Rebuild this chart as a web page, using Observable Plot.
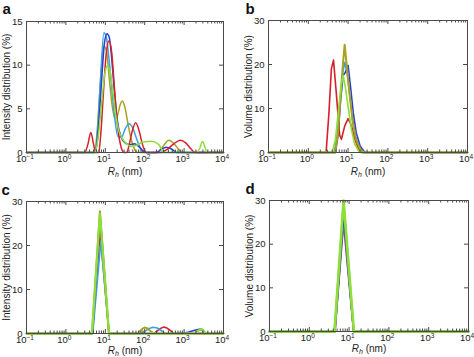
<!DOCTYPE html>
<html><head><meta charset="utf-8">
<script src="https://cdn.jsdelivr.net/npm/d3@7"></script>
<script src="https://cdn.jsdelivr.net/npm/@observablehq/plot@0.6"></script>
<style>
html,body{margin:0;padding:0;background:#fff;}
#wrap{position:relative;width:474px;height:357px;overflow:hidden;background:#fff;}
</style></head><body><div id="wrap"></div>
<script>
// ---------- data ----------
const seriesColors = {red:"#d7202a", blue:"#2c3fd0", sky:"#3c9fe2", olive:"#a9a21e", lime:"#8ddf3a"};
const xMajor = [0.1, 1, 10, 100, 1000, 10000];
const xTickLabels = ["10⁻¹","10⁰","10¹","10²","10³","10⁴"];
const minorFactors = [2,3,4,5,6,7,8,9];
const yTicksA = [0, 5, 10, 15];
const yTicksB = [0, 10, 20, 30];

// panel a: intensity distribution (%), [Rh nm, value]
const aRed = [[0.1,0],[3.0,0],[3.6,0.9],[4.3,2.3],[5.0,1.0],[5.7,0],[6.8,0],[7.8,2.5],[9,7],[10.5,11.2],[12.4,12.8],[14.5,11.5],[17,7.5],[20,3.5],[24,1.0],[30,0],[35,0],[40,0.8],[48,2.4],[59,3.4],[72,2.5],[88,0.9],[110,0],[260,0],[380,0.4],[550,1.0],[800,1.4],[1100,1.1],[1500,0.4],[1900,0],[10000,0]];
const aBlue = [[0.1,0],[5.6,0],[6.6,2.5],[8,8],[9.5,12.5],[11,13.6],[12.6,13.2],[14.5,10.8],[17,7],[20,3.8],[25,1.8],[32,1.1],[42,0.9],[55,1.0],[70,0.7],[90,0.2],[110,0],[200,0],[260,0.35],[350,0.6],[480,0.4],[650,0],[10000,0]];
const aSky = [[0.1,0],[5.4,0],[6.4,2.5],[7.6,8.5],[9.2,13.7],[10.5,13.3],[12.2,11],[14.5,7.5],[17.5,3.8],[21,1.8],[26,1.8],[32,2.7],[40,3.3],[50,2.8],[62,1.6],[78,0.5],[100,0],[10000,0]];
const aOlive = [[0.1,0],[5.3,0],[6.3,2.8],[7.6,8.5],[9.3,12.2],[10.8,11.5],[12.6,8.5],[14.8,5.5],[17.5,3.9],[20.5,4.3],[24,5.5],[27,5.9],[31,5.3],[38,3.2],[46,1.4],[55,0.4],[65,0],[210,0],[290,0.7],[410,1.4],[560,1.0],[750,0.3],[900,0],[10000,0]];
const aLime = [[0.1,0],[5.4,0],[6.5,1.5],[8,5.5],[9.7,9],[11.3,9.9],[13.2,9.3],[15.5,7],[18.5,4.2],[22,2.5],[27,1.6],[35,1.0],[45,0.7],[60,0.8],[90,1.2],[150,1.3],[230,0.9],[310,0],[2100,0],[2500,0.5],[2950,1.25],[3400,0.6],[3800,0],[10000,0]];

// panel b: volume distribution (%)
const bRed = [[0.1,0],[2.8,0],[3.3,9],[3.8,19],[4.3,21],[5.0,14],[6.1,4],[6.8,3],[8.2,6],[10,7.7],[12,6.2],[15,2.8],[18.5,0.8],[22,0],[10000,0]];
const bBlue = [[0.1,0],[4.8,0],[5.6,4],[6.5,12],[7.5,17.5],[8.5,18.2],[10,19.8],[11.5,15],[13.5,9],[16,4.5],[20,1.5],[25,0.3],[29,0],[10000,0]];
const bSky = [[0.1,0],[4.5,0],[5.3,4],[6.3,12],[7.3,18],[8.2,20.5],[9.5,18],[11,13],[13,7.5],[16,3],[20,0.8],[25,0],[10000,0]];
const bOlive = [[0.1,0],[4.7,0],[5.5,4],[6.5,13],[7.4,20],[8.2,24.5],[9.3,19.5],[11,13],[13,7],[16,2.8],[20,0.8],[24,0],[10000,0]];
const bLime = [[0.1,0],[4.0,0],[4.8,3],[5.8,10],[6.7,15.5],[7.5,17.5],[8.5,15],[10,10.5],[12,5.5],[14.5,2],[18,0.4],[21,0],[10000,0]];

// panel c: intensity distribution (%)
const cRed = [[0.1,0],[4.7,0],[7.4,23.2],[12.4,0],[170,0],[210,0.6],[250,1.15],[300,1.45],[360,1.3],[430,0.8],[520,0.2],[560,0],[10000,0]];
const cSky = [[0.1,0],[4.8,0],[7.7,21],[12.4,0],[85,0],[105,0.6],[130,1.15],[160,1.4],[200,1.3],[250,0.8],[310,0.2],[340,0],[10000,0]];
const cBlue = [[0.1,0],[4.7,0],[7.4,26.5],[12.4,0],[900,0],[1200,0.25],[1600,0.55],[2100,0.85],[2600,1.0],[2900,0.7],[3200,0.15],[3300,0],[10000,0]];
const cOlive = [[0.1,0],[4.6,0],[7.3,27.8],[12.3,0],[65,0],[75,0.5],[88,1.1],[100,1.35],[115,1.2],[135,0.7],[160,0.15],[175,0],[10000,0]];
const cLime = [[0.1,0],[4.6,0],[7.3,27.2],[12.5,0],[1800,0],[2100,0.4],[2450,0.8],[2800,1.0],[3100,0.7],[3400,0.15],[3500,0],[10000,0]];

// panel d: volume distribution (%)
const dRed = [[0.1,0],[4.4,0],[7.25,25],[13.0,0],[10000,0]];
const dSky = [[0.1,0],[4.4,0],[7.25,26],[13.0,0],[10000,0]];
const dBlue = [[0.1,0],[4.4,0],[7.25,27],[13.0,0],[10000,0]];
const dOlive = [[0.1,0],[4.3,0],[7.25,29.5],[13.1,0],[10000,0]];
const dLime = [[0.1,0],[4.3,0],[7.25,30],[13.2,0],[10000,0]];

// ---------- drawing ----------
const axisColor = "#4a4a4a";
const xMinor = xMajor.slice(0, -1).flatMap(d => minorFactors.map(f => f * d));
const supMap = {"⁻":"−","⁰":"0","¹":"1","²":"2","³":"3","⁴":"4"};
const xLabelOf = d => xTickLabels[xMajor.findIndex(v => Math.abs(Math.log10(v) - Math.log10(d)) < 1e-6)];

function panel(cfg) {
  const {left, top, width, height, ml, mr, mt, mb, yMax, yTicks, yLabel, letter, letterDx, letterDy, series, curve, lw, xLabelDy} = cfg;
  const fh = height - mt - mb, fw = width - ml - mr;
  const marks = [];
  for (const s of series) {
    marks.push(Plot.line(s.data, {x: d => d[0], y: d => d[1], stroke: seriesColors[s.key], strokeWidth: s.w || lw, curve, strokeLinejoin: "round"}));
  }
  marks.push(
    Plot.frame({stroke: axisColor, strokeWidth: 1}),
    Plot.tickX(xMajor, {x: d => d, insetTop: fh - 4, stroke: axisColor}),
    Plot.tickX(xMajor, {x: d => d, insetBottom: fh - 4, stroke: axisColor}),
    Plot.tickX(xMinor, {x: d => d, insetTop: fh - 2.5, stroke: axisColor}),
    Plot.tickX(xMinor, {x: d => d, insetBottom: fh - 2.5, stroke: axisColor}),
    Plot.tickY(yTicks, {y: d => d, insetRight: fw - 4, stroke: axisColor}),
    Plot.tickY(yTicks, {y: d => d, insetLeft: fw - 4, stroke: axisColor}),
    Plot.text(xMajor, {x: d => d, text: xLabelOf, frameAnchor: "bottom", dx: -1.5, dy: 3, textAnchor: "middle", lineAnchor: "top", fill: "#222", fontSize: 9.5}),
    Plot.axisY({ticks: yTicks, tickSize: 0, tickPadding: 4, label: null}),
    Plot.text([letter], {text: d => d, frameAnchor: "top-left", dx: letterDx, dy: letterDy, textAnchor: "start", lineAnchor: "bottom", fontWeight: "bold", fontSize: 15, fill: "#111"}),
    Plot.text([yLabel], {text: d => d, frameAnchor: "left", rotate: -90, dx: -19.5, textAnchor: "middle", lineAnchor: "middle", fontSize: 10, fill: "#222"}),
    Plot.text(["Rh (nm)"], {text: d => d, frameAnchor: "bottom", dy: xLabelDy, textAnchor: "middle", lineAnchor: "bottom", fontSize: 10, fill: "#222"})
  );
  const svg = Plot.plot({
    width, height, marginLeft: ml, marginRight: mr, marginTop: mt, marginBottom: mb,
    style: {fontFamily: "'Liberation Sans', Arial, Helvetica, sans-serif", fontSize: "9.5px", color: "#222", background: "transparent", overflow: "visible"},
    x: {type: "log", domain: [0.1, 10000], axis: null},
    y: {domain: [0, yMax]},
    marks
  });
  // superscript exponents on x tick labels
  svg.querySelectorAll("text").forEach(t => {
    const s = t.textContent;
    if (xTickLabels.includes(s)) {
      const exp = [...s.slice(2)].map(c => supMap[c] || c).join("");
      const tgt = t.querySelector("tspan") || t;
      tgt.textContent = "10";
      const ts = document.createElementNS("http://www.w3.org/2000/svg", "tspan");
      ts.setAttribute("dy", "-3.5");
      ts.setAttribute("font-size", "6.5");
      ts.textContent = exp;
      tgt.appendChild(ts);
    }
  });
  // italic R with subscript h
  svg.querySelectorAll("text").forEach(t => {
    if (t.textContent === "Rh (nm)") {
      const tgt = t.querySelector("tspan") || t;
      tgt.textContent = "";
      const mk = (txt, attrs) => {
        const ts = document.createElementNS("http://www.w3.org/2000/svg", "tspan");
        for (const k in attrs) ts.setAttribute(k, attrs[k]);
        ts.textContent = txt; tgt.appendChild(ts);
      };
      mk("R", {"font-style": "italic"});
      mk("h", {"font-style": "italic", "font-size": "7", dy: "2"});
      mk(" (nm)", {dy: "-2"});
    }
  });
  svg.style.position = "absolute";
  svg.style.left = left + "px";
  svg.style.top = top + "px";
  document.getElementById("wrap").appendChild(svg);
}

panel({left: 0, top: 0, width: 237, height: 178, ml: 26, mr: 14, mt: 21, mb: 26,
  yMax: 15, yTicks: yTicksA, yLabel: "Intensity distribution (%)", letter: "a", letterDx: -24, letterDy: -8,
  curve: "monotone-x", lw: 1.5, xLabelDy: 22,
  series: [{key: "olive", data: aOlive}, {key: "sky", data: aSky}, {key: "blue", data: aBlue}, {key: "red", data: aRed}, {key: "lime", data: aLime}]});

panel({left: 237, top: 0, width: 237, height: 178, ml: 31, mr: 7, mt: 20, mb: 26,
  yMax: 30, yTicks: yTicksB, yLabel: "Volume distribution (%)", letter: "b", letterDx: -23, letterDy: -7,
  curve: "linear", lw: 1.6, xLabelDy: 22,
  series: [{key: "red", data: bRed}, {key: "blue", data: bBlue}, {key: "sky", data: bSky}, {key: "olive", data: bOlive, w: 2}, {key: "lime", data: bLime}]});

panel({left: 0, top: 177, width: 237, height: 180, ml: 26, mr: 14, mt: 24, mb: 24,
  yMax: 30, yTicks: yTicksB, yLabel: "Intensity distribution (%)", letter: "c", letterDx: -25, letterDy: -7,
  curve: "linear", lw: 1.6, xLabelDy: 20,
  series: [{key: "red", data: cRed}, {key: "sky", data: cSky}, {key: "blue", data: cBlue}, {key: "olive", data: cOlive, w: 2}, {key: "lime", data: cLime, w: 2.2}]});

panel({left: 237, top: 177, width: 237, height: 180, ml: 32, mr: 6, mt: 23, mb: 26,
  yMax: 30, yTicks: yTicksB, yLabel: "Volume distribution (%)", letter: "d", letterDx: -24, letterDy: -7,
  curve: "linear", lw: 1.8, xLabelDy: 20,
  series: [{key: "red", data: dRed}, {key: "sky", data: dSky}, {key: "blue", data: dBlue}, {key: "olive", data: dOlive, w: 2}, {key: "lime", data: dLime, w: 2.6}]});
</script></body></html>
